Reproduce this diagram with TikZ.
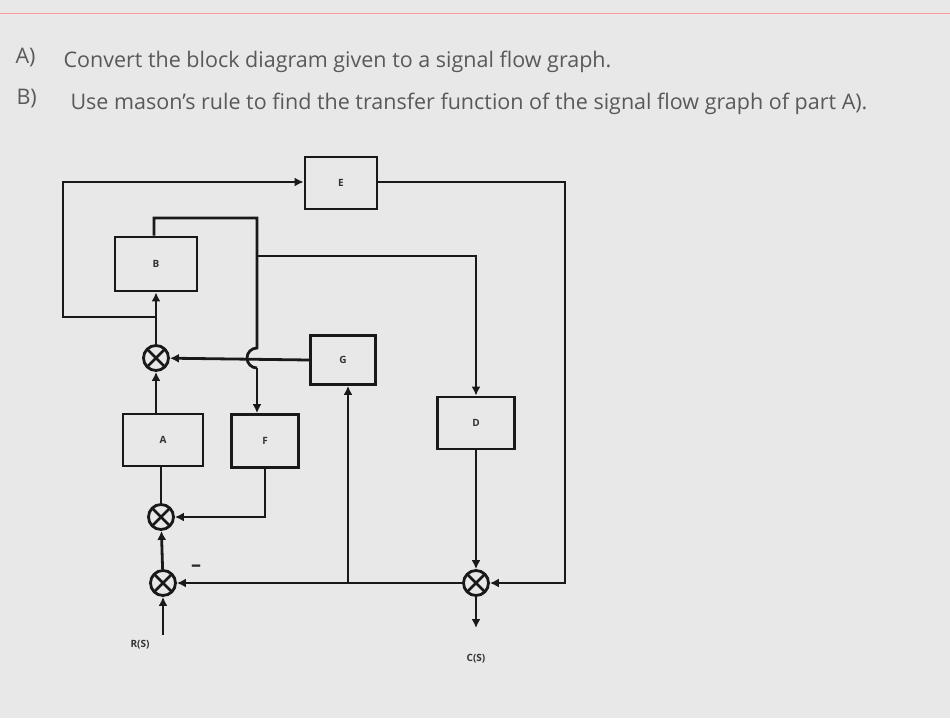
\documentclass[tikz,border=0pt]{standalone}
\usepackage{fontspec}
\setmainfont{Open Sans}
\usetikzlibrary{arrows.meta}
\begin{document}
\begin{tikzpicture}[x=1pt,y=-1pt,
  wire/.style={line width=2.8pt,black!90},
  arr/.style={wire,-{Latex[length=9pt,width=9pt]}},
  blk/.style={draw=black!90,line width=2.8pt,inner sep=0pt,font=\bfseries\fontsize{10}{12}\selectfont,text=black!80},
  sumj/.style={draw=black!90,line width=2.8pt,circle,minimum size=25pt,inner sep=0pt,
    path picture={\draw[line width=2.8pt,black!90] ([shift={(-9pt,-9pt)}]path picture bounding box.center)--([shift={(9pt,9pt)}]path picture bounding box.center)
      ([shift={(-9pt,9pt)}]path picture bounding box.center)--([shift={(9pt,-9pt)}]path picture bounding box.center);}},
  lab/.style={font=\bfseries\fontsize{10}{12}\selectfont,text=black!80},
  txt/.style={anchor=base west,text=black!65,font=\fontsize{21.5}{24}\selectfont}]
\fill[black!9] (0,0) rectangle (950,718);
\useasboundingbox (0,0) rectangle (950,718);
\draw[red!40,line width=1pt] (0,13)--(950,13);
\node[txt] (ta) at (12,63) {A)};
\node[txt] (tat) at (60,67) {Convert the block diagram given to a signal flow graph.};
\node[txt] (tb) at (13,104) {B)};
\node[txt] (tbt) at (67,109) {Use mason's rule to find the transfer function of the signal flow graph of part A).};

\node[blk,minimum width=72pt,minimum height=52pt] (E) at (341,183) {E};
\node[blk,minimum width=82pt,minimum height=54pt] (B) at (156,264) {B};
\node[blk,minimum width=65pt,minimum height=49pt] (G) at (343,360) {G};
\node[blk,minimum width=80pt,minimum height=52pt] (A) at (163,440) {A};
\node[blk,minimum width=67pt,minimum height=53pt] (F) at (265,441) {F};
\node[blk,minimum width=77pt,minimum height=52pt] (D) at (476,423) {D};
\node[sumj] (S1) at (156,358) {};
\node[sumj] (S2) at (161,517) {};
\node[sumj] (S3) at (163,583) {};
\node[sumj] (S4) at (476,583) {};
\coordinate (rin) at (163,635);
\coordinate (cout) at (476,628);
\node[lab] (R) at (140,645) {R(S)};
\node[lab] (C) at (476,659) {C(S)};
\node[font=\bfseries\fontsize{20}{20}\selectfont,text=black!85] (minus) at (196,568) {–};

\draw[arr] (rin) -- (S3);
\draw[arr] (S3) -- (S2);
\draw[wire] (S2) -- (A.south -| S2);
\draw[arr] (A.north -| S1) -- (S1);
\draw[arr] (S1) -- (B.south -| S1);
\draw[arr] (156,317) -- (63,317) -- (63,182) -- (E.west |- 0,182);
\draw[arr] (E.east |- 0,182) -- (565,182) -- (565,583) -- (S4);
\draw[wire] (B.north -| 154,0) -- (154,218) -- (257,218) -- (257,348) arc[start angle=-90,end angle=-270,radius=10];
\draw[arr] (257,368) -- (F.north -| 257,0);
\draw[arr] (257,256) -- (476,256) -- (D.north);
\draw[arr] (G.west) -- (S1);
\draw[arr] (D.south) -- (S4);
\draw[arr] (S4) -- (cout);
\draw[arr] (S4) -- (S3);
\draw[arr] (348,583) -- (G.south -| 348,0);
\draw[arr] (F.south) -- (265,517) -- (S2);
\end{tikzpicture}
\end{document}
